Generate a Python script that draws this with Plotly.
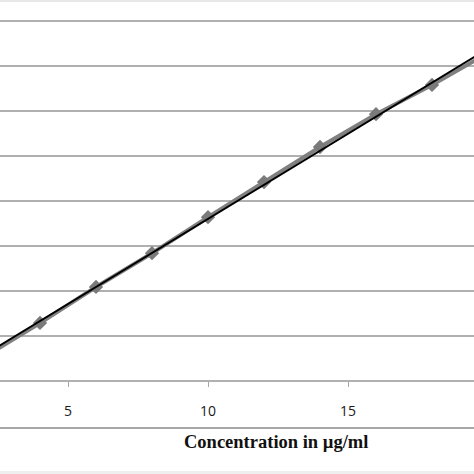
import numpy as np
import plotly.graph_objects as go

# Concentration (µg/ml) and absorbance values
concentration = [2, 4, 6, 8, 10, 12, 14, 16, 18, 20]
absorbance = [0.053, 0.129, 0.209, 0.284, 0.364, 0.442, 0.520, 0.593, 0.658, 0.729]
x_ticks = [5, 10, 15]
x_title = "Concentration in µg/ml"

slope, intercept = np.polyfit(concentration, absorbance, 1)
trend_x = [min(concentration), max(concentration)]
trend_y = [slope * v + intercept for v in trend_x]

fig = go.Figure()
fig.add_trace(go.Scatter(
    x=concentration, y=absorbance, mode="lines+markers",
    line=dict(color="#808080", width=4),
    marker=dict(symbol="diamond", size=11, color="#7a7a7a"),
    showlegend=False, hoverinfo="skip"))
fig.add_trace(go.Scatter(
    x=trend_x, y=trend_y, mode="lines",
    line=dict(color="#000000", width=2),
    showlegend=False, hoverinfo="skip"))

fig.update_layout(
    width=474, height=474,
    margin=dict(l=0, r=0, t=0, b=93),
    paper_bgcolor="white", plot_bgcolor="white",
    xaxis=dict(range=[72 / 28, 546 / 28], tickmode="array", tickvals=x_ticks,
               ticks="outside", ticklen=5, tickcolor="#a6a6a6", tickwidth=1,
               showgrid=False, zeroline=False, showline=False,
               tickfont=dict(family="Open Sans", size=14, color="#1a1a1a"),
               ticklabelstandoff=12),
    yaxis=dict(range=[0, 0.8 + 21 / 450], dtick=0.1, showticklabels=False,
               showgrid=True, gridcolor="#b0b0b0", gridwidth=1.5,
               zeroline=True, zerolinecolor="#b0b0b0", zerolinewidth=1.5,
               showline=False, ticks=""),
    shapes=[
        dict(type="line", xref="paper", yref="paper", x0=0, x1=1,
             y0=(381 - 428) / 381, y1=(381 - 428) / 381,
             line=dict(color="#a6a6a6", width=2)),
        dict(type="rect", xref="paper", yref="paper", x0=0, x1=1,
             y0=1 - 2 / 381, y1=1, line=dict(width=0), fillcolor="#e8e8e8"),
        dict(type="rect", xref="paper", yref="paper", x0=0, x1=1,
             y0=(381 - 474) / 381, y1=(381 - 471) / 381,
             line=dict(width=0), fillcolor="#efefef"),
    ],
    annotations=[dict(text="<b>" + x_title + "</b>", xref="paper", yref="paper",
                      x=276 / 474, y=(381 - 442) / 381, showarrow=False,
                      xanchor="center", yanchor="middle",
                      font=dict(family="Liberation Serif", size=18.5, color="#111111"))],
)

fig.write_html("out.html", config={"displayModeBar": False},
               post_script="document.body.style.margin='0';")
